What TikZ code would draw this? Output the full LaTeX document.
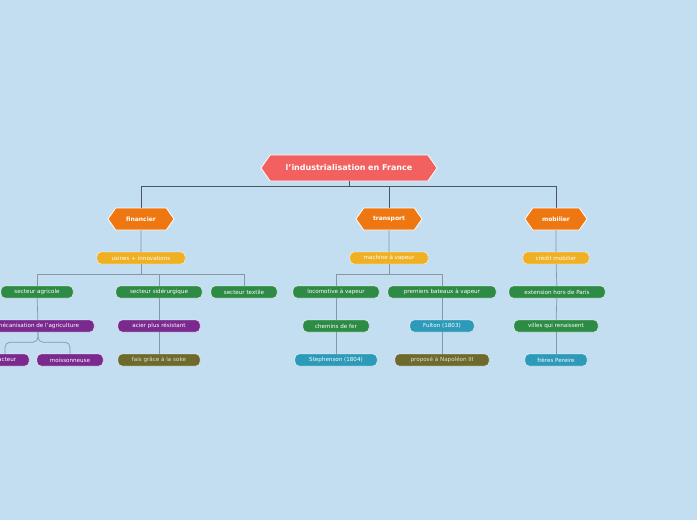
\documentclass[tikz,border=0pt]{standalone}
\usepackage{fontspec}
\setmainfont{DejaVu Sans}
\usetikzlibrary{shapes.symbols}
\definecolor{bg}{HTML}{C3DEF0}
\definecolor{cRoot}{HTML}{F26160}
\definecolor{cOr}{HTML}{EE7711}
\definecolor{cYe}{HTML}{EFB023}
\definecolor{cGr}{HTML}{2E8B45}
\definecolor{cPu}{HTML}{7A2A8E}
\definecolor{cBl}{HTML}{2C9AB8}
\definecolor{cOl}{HTML}{6E6A2E}
\definecolor{lnD}{HTML}{4A5560}
\definecolor{lnL}{HTML}{8797A5}
\tikzset{
 hexa/.style={shape=signal, signal to=east and west, signal pointer angle=110, draw=white, line width=0.8pt, text=white, font=\bfseries\fontsize{6}{7}\selectfont, minimum height=22pt, inner xsep=6pt},
 pill/.style={rounded corners=4pt, draw=white, line width=0.4pt, text=white, font=\fontsize{5.6}{6.5}\selectfont, minimum height=12pt, inner xsep=8pt, inner ysep=0pt},
 ye/.style={pill, fill=cYe}, gr/.style={pill, fill=cGr}, pu/.style={pill, fill=cPu}, bl/.style={pill, fill=cBl}, ol/.style={pill, fill=cOl, text=white!80!cOl},
 con/.style={draw=lnL, line width=0.7pt},
 conD/.style={draw=lnD, line width=0.9pt}
}
\begin{document}
\begin{tikzpicture}[x=1pt,y=-1pt]
\fill[bg] (0,0) rectangle (697,520);
\useasboundingbox (0,0) rectangle (697,520);
\clip (0,0) rectangle (697,520);
% nodes
\node[hexa, fill=cRoot, minimum width=176pt, minimum height=26pt, font=\bfseries\fontsize{8}{9}\selectfont] (root) at (349,168) {l'industrialisation en France};
\node[hexa, fill=cOr, minimum width=66pt] (fin) at (141,219) {financier};
\node[hexa, fill=cOr, minimum width=66pt] (tra) at (389,219) {transport};
\node[hexa, fill=cOr, minimum width=62pt] (mob) at (556,219) {mobilier};
\node[ye, minimum width=88pt] (usi) at (141,258) {usines + innovations};
\node[ye, minimum width=78pt] (mac) at (389,258) {machine à vapeur};
\node[ye, minimum width=66pt] (cre) at (556,258) {crédit mobilier};
\node[gr, minimum width=72pt] (agr) at (37,292) {secteur agricole};
\node[gr, minimum width=86pt] (sid) at (159,292) {secteur sidérurgique};
\node[gr, minimum width=66pt] (tex) at (244,292) {secteur textile};
\node[gr, minimum width=86pt] (loc) at (336,292) {locomotive à vapeur};
\node[gr, minimum width=108pt] (bat) at (442,292) {premiers bateaux à vapeur};
\node[gr, minimum width=96pt] (ext) at (557,292) {extension hors de Paris};
\node[pu, minimum width=112pt] (mec) at (38,326) {mécanisation de l'agriculture};
\node[pu, minimum width=82pt] (aci) at (159,326) {acier plus résistant};
\node[gr, minimum width=66pt] (che) at (336,326) {chemins de fer};
\node[bl, minimum width=64pt] (ful) at (442,326) {Fulton (1803)};
\node[gr, minimum width=84pt] (vil) at (556,326) {villes qui renaissent};
\node[pu, minimum width=48pt] (trc) at (5,360) {tracteur};
\node[pu, minimum width=66pt] (moi) at (70,360) {moissonneuse};
\node[ol, minimum width=82pt] (fai) at (159,360) {fais grâce à la soke};
\node[bl, minimum width=82pt] (ste) at (336,360) {Stephenson (1804)};
\node[ol, minimum width=94pt] (nap) at (442,360) {proposé à Napoléon III};
\node[bl, minimum width=62pt] (fre) at (556,360) {frères Pereire};
% connectors
\begin{scope}[on background layer/.style={}]
\draw[conD] (root.south) -- ++(0,5) -| (fin.north);
\draw[conD] (root.south) -- ++(0,5) -| (tra.north);
\draw[conD] (root.south) -- ++(0,5) -| (mob.north);
\end{scope}
\draw[con] (fin) -- (usi); \draw[con] (tra) -- (mac); \draw[con] (mob) -- (cre);
\draw[con] (usi.south) -- ++(0,10) -| (agr.north);
\draw[con] (usi.south) -- ++(0,10) -| (sid.north);
\draw[con] (usi.south) -- ++(0,10) -| (tex.north);
\draw[con] (mac.south) -- ++(0,10) -| (loc.north);
\draw[con] (mac.south) -- ++(0,10) -| (bat.north);
\draw[con] (cre) -- (ext); \draw[con] (ext) -- (vil); \draw[con] (vil) -- (fre);
\draw[con] (agr) -- (mec); \draw[con] (sid) -- (aci); \draw[con] (aci) -- (fai);
\draw[con] (loc) -- (che); \draw[con] (che) -- (ste);
\draw[con] (bat) -- (ful); \draw[con] (ful) -- (nap);
\draw[con, rounded corners=5pt] (mec.south) -- ++(0,10) -| (trc.north);
\draw[con, rounded corners=5pt] (mec.south) -- ++(0,10) -| (moi.north);
\end{tikzpicture}
\end{document}
